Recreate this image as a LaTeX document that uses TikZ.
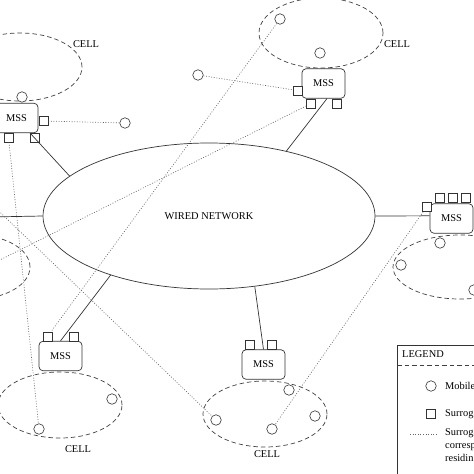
\documentclass[tikz,border=0pt]{standalone}
\usepackage{fontspec}
\setmainfont{Liberation Serif}
\usetikzlibrary{shapes.geometric}
\begin{document}
\begin{tikzpicture}[x=1pt,y=-1pt,
  txt/.style={font=\fontsize{10.4}{13}\selectfont, inner sep=0pt},
  wire/.style={draw=black!80, line width=0.7pt},
  mss/.style={draw=black!80, line width=0.7pt, rounded corners=4pt, minimum width=43pt, minimum height=29.5pt, inner sep=0pt, txt},
  sq/.style={draw=black!80, line width=0.6pt, minimum size=9pt, inner sep=0pt, fill=white},
  host/.style={circle, draw=black!80, line width=0.6pt, minimum size=10.5pt, inner sep=0pt, fill=white},
  cell/.style={draw=black!75, line width=0.7pt, dash pattern=on 4.5pt off 3pt},
  surr/.style={draw=black!60, line width=0.65pt, dash pattern=on 0.9pt off 1.7pt}]
\useasboundingbox (0,0) rectangle (474,474);
\clip (0,0) rectangle (474,474);

% cells
\draw[cell] (20,67) ellipse [x radius=62pt, y radius=34pt];
\draw[cell] (321,33) ellipse [x radius=62pt, y radius=35pt];
\draw[cell] (-25,267) ellipse [x radius=55pt, y radius=32pt];
\draw[cell] (460,267) ellipse [x radius=67pt, y radius=32pt];
\draw[cell] (60,405) ellipse [x radius=62pt, y radius=33pt];
\draw[cell] (265,414) ellipse [x radius=62pt, y radius=33pt];
\node[txt] (c1) at (86,44) {CELL};
\node[txt] (c2) at (397,44) {CELL};
\node[txt] (c3) at (78,449) {CELL};
\node[txt] (c4) at (267,454) {CELL};

% wired network
\node[ellipse, draw=black!80, line width=0.7pt, minimum width=332pt, minimum height=146pt, inner sep=0pt, txt] (wn) at (209,216) {WIRED NETWORK};

% MSS boxes
\node[mss] (m1) at (16.5,118) {MSS};
\node[mss] (m2) at (323.5,83.5) {MSS};
\node[mss] (m3) at (451.5,218.5) {MSS};
\node[mss] (m4) at (60.5,356) {MSS};
\node[mss] (m5) at (263.5,364.5) {MSS};

% surrogate squares
\node[sq] (s1r) at (43.5,121) {};
\node[sq] (s1a) at (8.5,137.5) {};
\node[sq] (s1b) at (34.5,137.5) {};
\node[sq] (s2l) at (297.5,90.5) {};
\node[sq] (s2a) at (311,103.5) {};
\node[sq] (s2b) at (336.5,103.5) {};
\node[sq] (s3l) at (426.5,207) {};
\node[sq] (s3a) at (440,198) {};
\node[sq] (s3b) at (452.5,198) {};
\node[sq] (s3c) at (465.5,198) {};
\node[sq] (s4a) at (47.5,336.5) {};
\node[sq] (s4b) at (73.5,336.5) {};
\node[sq] (s5a) at (250,345) {};
\node[sq] (s5b) at (271.5,345) {};

% mobile hosts
\node[host] (h1) at (22,97) {};
\node[host] (h2) at (125,123) {};
\node[host] (h3) at (198,75) {};
\node[host] (h4) at (280,19) {};
\node[host] (h5) at (320,53) {};
\node[host] (h6) at (440,243) {};
\node[host] (h7) at (401,265) {};
\node[host] (h8) at (474,290) {};
\node[host] (h9) at (289,390) {};
\node[host] (h10) at (216,420) {};
\node[host] (h11) at (272,429) {};
\node[host] (h12) at (315,416) {};
\node[host] (h13) at (112,399) {};
\node[host] (h14) at (39,429) {};

% off-picture ends
\coordinate (o1) at (-20,270);
\coordinate (o2) at (-20,193);
\coordinate (o3) at (-10,217);

% wired links
\draw[wire] (wn.164.5) -- (m1.-48);
\draw[wire] (wn.40.5) -- (m2.-77);
\draw[wire] (wn.east) -- (m3.173);
\draw[wire] (wn.west) -- (o3);
\draw[wire] (wn.211) -- (m4.north);
\draw[wire] (wn.303) -- (m5.north);

% surrogate links
\draw[surr] (s1r) -- (h2);
\draw[surr] (h3) -- (s2l);
\draw[surr] (s2a) -- (o1);
\draw[surr] (h4) -- (s4a);
\draw[surr] (s1a) -- (h14);
\draw[surr] (o2) -- (h10);
\draw[surr] (s3l) -- (h11);

% legend
\draw[draw=black!80, line width=0.7pt] (397,345) rectangle (490,490);
\coordinate (lg1) at (397,365);
\coordinate (lg2) at (490,365);
\draw[cell, line width=0.6pt] (lg1) -- (lg2);
\node[txt, anchor=west] (lgt) at (402,354) {LEGEND};
\node[host] (lh) at (431,386) {};
\node[txt, anchor=west] (lht) at (445,386) {Mobile Host};
\node[sq] (ls) at (431,414) {};
\node[txt, anchor=west] (lst) at (445,414) {Surrogate};
\coordinate (ld1) at (410,434);
\coordinate (ld2) at (437,434);
\draw[surr] (ld1) -- (ld2);
\node[txt, anchor=north west, align=left] (ldt) at (445,428) {Surrogate link to\\corresponding MH\\residing in another cell};
\end{tikzpicture}
\end{document}
